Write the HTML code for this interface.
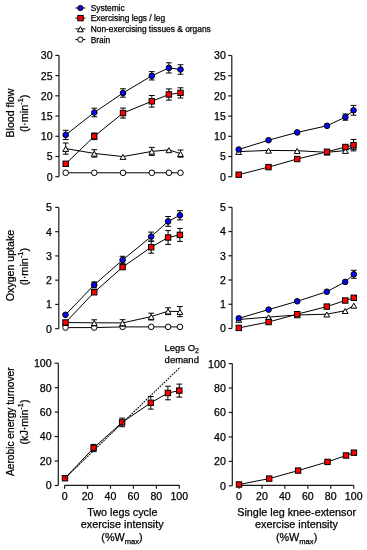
<!DOCTYPE html>
<html><head><meta charset="utf-8"><style>
html,body{margin:0;padding:0;background:#fff;}
svg{display:block;will-change:transform;font-family:"Liberation Sans", sans-serif;}
text{stroke:#000;stroke-width:0.25px;}
</style></head><body>
<svg width="367" height="550" viewBox="0 0 367 550" fill="#000">
<rect width="367" height="550" fill="#fff"/>
<line x1="59" y1="55.4" x2="59" y2="176.7" stroke="#1a1a1a" stroke-width="1.2" /><line x1="55.4" y1="176.7" x2="59" y2="176.7" stroke="#1a1a1a" stroke-width="1.2" /><text x="52.6" y="180.6" font-size="10.6" text-anchor="end" >0</text><line x1="55.4" y1="156.48333333333332" x2="59" y2="156.48333333333332" stroke="#1a1a1a" stroke-width="1.2" /><text x="52.6" y="160.38333333333333" font-size="10.6" text-anchor="end" >5</text><line x1="55.4" y1="136.26666666666665" x2="59" y2="136.26666666666665" stroke="#1a1a1a" stroke-width="1.2" /><text x="52.6" y="140.16666666666666" font-size="10.6" text-anchor="end" >10</text><line x1="55.4" y1="116.04999999999998" x2="59" y2="116.04999999999998" stroke="#1a1a1a" stroke-width="1.2" /><text x="52.6" y="119.94999999999999" font-size="10.6" text-anchor="end" >15</text><line x1="55.4" y1="95.83333333333333" x2="59" y2="95.83333333333333" stroke="#1a1a1a" stroke-width="1.2" /><text x="52.6" y="99.73333333333333" font-size="10.6" text-anchor="end" >20</text><line x1="55.4" y1="75.61666666666667" x2="59" y2="75.61666666666667" stroke="#1a1a1a" stroke-width="1.2" /><text x="52.6" y="79.51666666666668" font-size="10.6" text-anchor="end" >25</text><line x1="55.4" y1="55.39999999999999" x2="59" y2="55.39999999999999" stroke="#1a1a1a" stroke-width="1.2" /><text x="52.6" y="59.29999999999999" font-size="10.6" text-anchor="end" >30</text><polyline points="65.7,172.8 94.3,172.8 123.0,172.8 151.8,172.8 168.9,172.8 180.5,172.8" fill="none" stroke="#000" stroke-width="1"/><circle cx="65.7" cy="172.8" r="2.8" fill="#fff" stroke="#000" stroke-width="1"/><circle cx="94.3" cy="172.8" r="2.8" fill="#fff" stroke="#000" stroke-width="1"/><circle cx="123.0" cy="172.8" r="2.8" fill="#fff" stroke="#000" stroke-width="1"/><circle cx="151.8" cy="172.8" r="2.8" fill="#fff" stroke="#000" stroke-width="1"/><circle cx="168.9" cy="172.8" r="2.8" fill="#fff" stroke="#000" stroke-width="1"/><circle cx="180.5" cy="172.8" r="2.8" fill="#fff" stroke="#000" stroke-width="1"/><polyline points="65.7,148.6 94.3,153.4 123.0,156.6 151.8,151.4 168.9,149.9 180.5,153.6" fill="none" stroke="#000" stroke-width="1"/><line x1="65.7" y1="143.0" x2="65.7" y2="154.2" stroke="#000" stroke-width="1" /><line x1="62.800000000000004" y1="143.0" x2="68.60000000000001" y2="143.0" stroke="#000" stroke-width="1" /><line x1="62.800000000000004" y1="154.2" x2="68.60000000000001" y2="154.2" stroke="#000" stroke-width="1" /><line x1="94.3" y1="149.70000000000002" x2="94.3" y2="157.1" stroke="#000" stroke-width="1" /><line x1="91.39999999999999" y1="149.70000000000002" x2="97.2" y2="149.70000000000002" stroke="#000" stroke-width="1" /><line x1="91.39999999999999" y1="157.1" x2="97.2" y2="157.1" stroke="#000" stroke-width="1" /><line x1="151.8" y1="147.4" x2="151.8" y2="155.4" stroke="#000" stroke-width="1" /><line x1="148.9" y1="147.4" x2="154.70000000000002" y2="147.4" stroke="#000" stroke-width="1" /><line x1="148.9" y1="155.4" x2="154.70000000000002" y2="155.4" stroke="#000" stroke-width="1" /><line x1="180.5" y1="150.0" x2="180.5" y2="157.2" stroke="#000" stroke-width="1" /><line x1="177.6" y1="150.0" x2="183.4" y2="150.0" stroke="#000" stroke-width="1" /><line x1="177.6" y1="157.2" x2="183.4" y2="157.2" stroke="#000" stroke-width="1" /><path d="M65.70 146.40L68.60 151.40L62.80 151.40Z" fill="#fff" stroke="#000" stroke-width="1"/><path d="M94.30 151.20L97.20 156.20L91.40 156.20Z" fill="#fff" stroke="#000" stroke-width="1"/><path d="M123.00 154.40L125.90 159.40L120.10 159.40Z" fill="#fff" stroke="#000" stroke-width="1"/><path d="M151.80 149.20L154.70 154.20L148.90 154.20Z" fill="#fff" stroke="#000" stroke-width="1"/><path d="M168.90 147.70L171.80 152.70L166.00 152.70Z" fill="#fff" stroke="#000" stroke-width="1"/><path d="M180.50 151.40L183.40 156.40L177.60 156.40Z" fill="#fff" stroke="#000" stroke-width="1"/><polyline points="65.7,163.8 94.3,136.3 123.0,113.1 151.8,101.3 168.9,94.5 180.5,92.9" fill="none" stroke="#000" stroke-width="1"/><line x1="94.3" y1="133.0" x2="94.3" y2="139.60000000000002" stroke="#000" stroke-width="1" /><line x1="91.39999999999999" y1="133.0" x2="97.2" y2="133.0" stroke="#000" stroke-width="1" /><line x1="91.39999999999999" y1="139.60000000000002" x2="97.2" y2="139.60000000000002" stroke="#000" stroke-width="1" /><line x1="123.0" y1="108.1" x2="123.0" y2="118.1" stroke="#000" stroke-width="1" /><line x1="120.1" y1="108.1" x2="125.9" y2="108.1" stroke="#000" stroke-width="1" /><line x1="120.1" y1="118.1" x2="125.9" y2="118.1" stroke="#000" stroke-width="1" /><line x1="151.8" y1="95.5" x2="151.8" y2="107.1" stroke="#000" stroke-width="1" /><line x1="148.9" y1="95.5" x2="154.70000000000002" y2="95.5" stroke="#000" stroke-width="1" /><line x1="148.9" y1="107.1" x2="154.70000000000002" y2="107.1" stroke="#000" stroke-width="1" /><line x1="168.9" y1="88.9" x2="168.9" y2="100.1" stroke="#000" stroke-width="1" /><line x1="166.0" y1="88.9" x2="171.8" y2="88.9" stroke="#000" stroke-width="1" /><line x1="166.0" y1="100.1" x2="171.8" y2="100.1" stroke="#000" stroke-width="1" /><line x1="180.5" y1="87.80000000000001" x2="180.5" y2="98.0" stroke="#000" stroke-width="1" /><line x1="177.6" y1="87.80000000000001" x2="183.4" y2="87.80000000000001" stroke="#000" stroke-width="1" /><line x1="177.6" y1="98.0" x2="183.4" y2="98.0" stroke="#000" stroke-width="1" /><rect x="63.0" y="161.10000000000002" width="5.4" height="5.4" fill="#ff0000" stroke="#000" stroke-width="1"/><rect x="91.6" y="133.60000000000002" width="5.4" height="5.4" fill="#ff0000" stroke="#000" stroke-width="1"/><rect x="120.3" y="110.39999999999999" width="5.4" height="5.4" fill="#ff0000" stroke="#000" stroke-width="1"/><rect x="149.10000000000002" y="98.6" width="5.4" height="5.4" fill="#ff0000" stroke="#000" stroke-width="1"/><rect x="166.20000000000002" y="91.8" width="5.4" height="5.4" fill="#ff0000" stroke="#000" stroke-width="1"/><rect x="177.8" y="90.2" width="5.4" height="5.4" fill="#ff0000" stroke="#000" stroke-width="1"/><polyline points="65.7,134.9 94.3,112.5 123.0,93.0 151.8,75.8 168.9,67.9 180.5,69.5" fill="none" stroke="#000" stroke-width="1"/><line x1="65.7" y1="130.3" x2="65.7" y2="139.5" stroke="#000" stroke-width="1" /><line x1="62.800000000000004" y1="130.3" x2="68.60000000000001" y2="130.3" stroke="#000" stroke-width="1" /><line x1="62.800000000000004" y1="139.5" x2="68.60000000000001" y2="139.5" stroke="#000" stroke-width="1" /><line x1="94.3" y1="108.2" x2="94.3" y2="116.8" stroke="#000" stroke-width="1" /><line x1="91.39999999999999" y1="108.2" x2="97.2" y2="108.2" stroke="#000" stroke-width="1" /><line x1="91.39999999999999" y1="116.8" x2="97.2" y2="116.8" stroke="#000" stroke-width="1" /><line x1="123.0" y1="88.8" x2="123.0" y2="97.2" stroke="#000" stroke-width="1" /><line x1="120.1" y1="88.8" x2="125.9" y2="88.8" stroke="#000" stroke-width="1" /><line x1="120.1" y1="97.2" x2="125.9" y2="97.2" stroke="#000" stroke-width="1" /><line x1="151.8" y1="71.64999999999999" x2="151.8" y2="79.95" stroke="#000" stroke-width="1" /><line x1="148.9" y1="71.64999999999999" x2="154.70000000000002" y2="71.64999999999999" stroke="#000" stroke-width="1" /><line x1="148.9" y1="79.95" x2="154.70000000000002" y2="79.95" stroke="#000" stroke-width="1" /><line x1="168.9" y1="62.800000000000004" x2="168.9" y2="73.0" stroke="#000" stroke-width="1" /><line x1="166.0" y1="62.800000000000004" x2="171.8" y2="62.800000000000004" stroke="#000" stroke-width="1" /><line x1="166.0" y1="73.0" x2="171.8" y2="73.0" stroke="#000" stroke-width="1" /><line x1="180.5" y1="64.75" x2="180.5" y2="74.25" stroke="#000" stroke-width="1" /><line x1="177.6" y1="64.75" x2="183.4" y2="64.75" stroke="#000" stroke-width="1" /><line x1="177.6" y1="74.25" x2="183.4" y2="74.25" stroke="#000" stroke-width="1" /><circle cx="65.7" cy="134.9" r="2.8" fill="#0a06ee" stroke="#000" stroke-width="1"/><circle cx="94.3" cy="112.5" r="2.8" fill="#0a06ee" stroke="#000" stroke-width="1"/><circle cx="123.0" cy="93.0" r="2.8" fill="#0a06ee" stroke="#000" stroke-width="1"/><circle cx="151.8" cy="75.8" r="2.8" fill="#0a06ee" stroke="#000" stroke-width="1"/><circle cx="168.9" cy="67.9" r="2.8" fill="#0a06ee" stroke="#000" stroke-width="1"/><circle cx="180.5" cy="69.5" r="2.8" fill="#0a06ee" stroke="#000" stroke-width="1"/><line x1="231.8" y1="55.5" x2="231.8" y2="176.7" stroke="#1a1a1a" stroke-width="1.2" /><line x1="228.20000000000002" y1="176.7" x2="231.8" y2="176.7" stroke="#1a1a1a" stroke-width="1.2" /><text x="225.8" y="180.6" font-size="10.6" text-anchor="end" >0</text><line x1="228.20000000000002" y1="156.5" x2="231.8" y2="156.5" stroke="#1a1a1a" stroke-width="1.2" /><text x="225.8" y="160.4" font-size="10.6" text-anchor="end" >5</text><line x1="228.20000000000002" y1="136.29999999999998" x2="231.8" y2="136.29999999999998" stroke="#1a1a1a" stroke-width="1.2" /><text x="225.8" y="140.2" font-size="10.6" text-anchor="end" >10</text><line x1="228.20000000000002" y1="116.1" x2="231.8" y2="116.1" stroke="#1a1a1a" stroke-width="1.2" /><text x="225.8" y="120.0" font-size="10.6" text-anchor="end" >15</text><line x1="228.20000000000002" y1="95.89999999999999" x2="231.8" y2="95.89999999999999" stroke="#1a1a1a" stroke-width="1.2" /><text x="225.8" y="99.8" font-size="10.6" text-anchor="end" >20</text><line x1="228.20000000000002" y1="75.69999999999999" x2="231.8" y2="75.69999999999999" stroke="#1a1a1a" stroke-width="1.2" /><text x="225.8" y="79.6" font-size="10.6" text-anchor="end" >25</text><line x1="228.20000000000002" y1="55.5" x2="231.8" y2="55.5" stroke="#1a1a1a" stroke-width="1.2" /><text x="225.8" y="59.4" font-size="10.6" text-anchor="end" >30</text><polyline points="238.7,151.6 268.5,150.4 297.2,150.7 327.0,152.3 345.4,150.6 353.5,146.5" fill="none" stroke="#000" stroke-width="1"/><path d="M238.70 149.40L241.60 154.40L235.80 154.40Z" fill="#fff" stroke="#000" stroke-width="1"/><path d="M268.50 148.20L271.40 153.20L265.60 153.20Z" fill="#fff" stroke="#000" stroke-width="1"/><path d="M297.20 148.50L300.10 153.50L294.30 153.50Z" fill="#fff" stroke="#000" stroke-width="1"/><path d="M327.00 150.10L329.90 155.10L324.10 155.10Z" fill="#fff" stroke="#000" stroke-width="1"/><path d="M345.40 148.40L348.30 153.40L342.50 153.40Z" fill="#fff" stroke="#000" stroke-width="1"/><path d="M353.50 144.30L356.40 149.30L350.60 149.30Z" fill="#fff" stroke="#000" stroke-width="1"/><polyline points="238.7,174.7 268.5,167.1 297.2,159.0 327.0,151.8 345.4,147.0 353.5,145.2" fill="none" stroke="#000" stroke-width="1"/><line x1="353.5" y1="139.5" x2="353.5" y2="150.89999999999998" stroke="#000" stroke-width="1" /><line x1="350.6" y1="139.5" x2="356.4" y2="139.5" stroke="#000" stroke-width="1" /><line x1="350.6" y1="150.89999999999998" x2="356.4" y2="150.89999999999998" stroke="#000" stroke-width="1" /><rect x="236.0" y="172.0" width="5.4" height="5.4" fill="#ff0000" stroke="#000" stroke-width="1"/><rect x="265.8" y="164.4" width="5.4" height="5.4" fill="#ff0000" stroke="#000" stroke-width="1"/><rect x="294.5" y="156.3" width="5.4" height="5.4" fill="#ff0000" stroke="#000" stroke-width="1"/><rect x="324.3" y="149.10000000000002" width="5.4" height="5.4" fill="#ff0000" stroke="#000" stroke-width="1"/><rect x="342.7" y="144.3" width="5.4" height="5.4" fill="#ff0000" stroke="#000" stroke-width="1"/><rect x="350.8" y="142.5" width="5.4" height="5.4" fill="#ff0000" stroke="#000" stroke-width="1"/><polyline points="238.7,149.5 268.5,140.2 297.2,132.4 327.0,125.8 345.4,117.1 353.5,110.3" fill="none" stroke="#000" stroke-width="1"/><line x1="345.4" y1="114.0" x2="345.4" y2="120.19999999999999" stroke="#000" stroke-width="1" /><line x1="342.5" y1="114.0" x2="348.29999999999995" y2="114.0" stroke="#000" stroke-width="1" /><line x1="342.5" y1="120.19999999999999" x2="348.29999999999995" y2="120.19999999999999" stroke="#000" stroke-width="1" /><line x1="353.5" y1="105.39999999999999" x2="353.5" y2="115.2" stroke="#000" stroke-width="1" /><line x1="350.6" y1="105.39999999999999" x2="356.4" y2="105.39999999999999" stroke="#000" stroke-width="1" /><line x1="350.6" y1="115.2" x2="356.4" y2="115.2" stroke="#000" stroke-width="1" /><circle cx="238.7" cy="149.5" r="2.8" fill="#0a06ee" stroke="#000" stroke-width="1"/><circle cx="268.5" cy="140.2" r="2.8" fill="#0a06ee" stroke="#000" stroke-width="1"/><circle cx="297.2" cy="132.4" r="2.8" fill="#0a06ee" stroke="#000" stroke-width="1"/><circle cx="327.0" cy="125.8" r="2.8" fill="#0a06ee" stroke="#000" stroke-width="1"/><circle cx="345.4" cy="117.1" r="2.8" fill="#0a06ee" stroke="#000" stroke-width="1"/><circle cx="353.5" cy="110.3" r="2.8" fill="#0a06ee" stroke="#000" stroke-width="1"/><line x1="58.8" y1="207.4" x2="58.8" y2="328.7" stroke="#1a1a1a" stroke-width="1.2" /><line x1="55.199999999999996" y1="328.7" x2="58.8" y2="328.7" stroke="#1a1a1a" stroke-width="1.2" /><text x="52.0" y="332.59999999999997" font-size="10.6" text-anchor="end" >0</text><line x1="55.199999999999996" y1="304.44" x2="58.8" y2="304.44" stroke="#1a1a1a" stroke-width="1.2" /><text x="52.0" y="308.34" font-size="10.6" text-anchor="end" >1</text><line x1="55.199999999999996" y1="280.18" x2="58.8" y2="280.18" stroke="#1a1a1a" stroke-width="1.2" /><text x="52.0" y="284.08" font-size="10.6" text-anchor="end" >2</text><line x1="55.199999999999996" y1="255.92" x2="58.8" y2="255.92" stroke="#1a1a1a" stroke-width="1.2" /><text x="52.0" y="259.82" font-size="10.6" text-anchor="end" >3</text><line x1="55.199999999999996" y1="231.66" x2="58.8" y2="231.66" stroke="#1a1a1a" stroke-width="1.2" /><text x="52.0" y="235.56" font-size="10.6" text-anchor="end" >4</text><line x1="55.199999999999996" y1="207.4" x2="58.8" y2="207.4" stroke="#1a1a1a" stroke-width="1.2" /><text x="52.0" y="211.3" font-size="10.6" text-anchor="end" >5</text><polyline points="65.5,327.6 94.2,327.6 122.6,326.9 151.2,326.9 168.1,326.9 179.9,326.9" fill="none" stroke="#000" stroke-width="1"/><circle cx="65.5" cy="327.6" r="2.8" fill="#fff" stroke="#000" stroke-width="1"/><circle cx="94.2" cy="327.6" r="2.8" fill="#fff" stroke="#000" stroke-width="1"/><circle cx="122.6" cy="326.9" r="2.8" fill="#fff" stroke="#000" stroke-width="1"/><circle cx="151.2" cy="326.9" r="2.8" fill="#fff" stroke="#000" stroke-width="1"/><circle cx="168.1" cy="326.9" r="2.8" fill="#fff" stroke="#000" stroke-width="1"/><circle cx="179.9" cy="326.9" r="2.8" fill="#fff" stroke="#000" stroke-width="1"/><polyline points="65.5,322.5 94.2,322.8 122.6,322.9 151.2,316.6 168.1,311.2 179.9,311.6" fill="none" stroke="#000" stroke-width="1"/><line x1="94.2" y1="319.8" x2="94.2" y2="325.8" stroke="#000" stroke-width="1" /><line x1="91.3" y1="319.8" x2="97.10000000000001" y2="319.8" stroke="#000" stroke-width="1" /><line x1="91.3" y1="325.8" x2="97.10000000000001" y2="325.8" stroke="#000" stroke-width="1" /><line x1="122.6" y1="319.7" x2="122.6" y2="326.09999999999997" stroke="#000" stroke-width="1" /><line x1="119.69999999999999" y1="319.7" x2="125.5" y2="319.7" stroke="#000" stroke-width="1" /><line x1="119.69999999999999" y1="326.09999999999997" x2="125.5" y2="326.09999999999997" stroke="#000" stroke-width="1" /><line x1="151.2" y1="313.20000000000005" x2="151.2" y2="320.0" stroke="#000" stroke-width="1" /><line x1="148.29999999999998" y1="313.20000000000005" x2="154.1" y2="313.20000000000005" stroke="#000" stroke-width="1" /><line x1="148.29999999999998" y1="320.0" x2="154.1" y2="320.0" stroke="#000" stroke-width="1" /><line x1="168.1" y1="307.8" x2="168.1" y2="314.59999999999997" stroke="#000" stroke-width="1" /><line x1="165.2" y1="307.8" x2="171.0" y2="307.8" stroke="#000" stroke-width="1" /><line x1="165.2" y1="314.59999999999997" x2="171.0" y2="314.59999999999997" stroke="#000" stroke-width="1" /><line x1="179.9" y1="306.6" x2="179.9" y2="316.6" stroke="#000" stroke-width="1" /><line x1="177.0" y1="306.6" x2="182.8" y2="306.6" stroke="#000" stroke-width="1" /><line x1="177.0" y1="316.6" x2="182.8" y2="316.6" stroke="#000" stroke-width="1" /><path d="M65.50 320.30L68.40 325.30L62.60 325.30Z" fill="#fff" stroke="#000" stroke-width="1"/><path d="M94.20 320.60L97.10 325.60L91.30 325.60Z" fill="#fff" stroke="#000" stroke-width="1"/><path d="M122.60 320.70L125.50 325.70L119.70 325.70Z" fill="#fff" stroke="#000" stroke-width="1"/><path d="M151.20 314.40L154.10 319.40L148.30 319.40Z" fill="#fff" stroke="#000" stroke-width="1"/><path d="M168.10 309.00L171.00 314.00L165.20 314.00Z" fill="#fff" stroke="#000" stroke-width="1"/><path d="M179.90 309.40L182.80 314.40L177.00 314.40Z" fill="#fff" stroke="#000" stroke-width="1"/><polyline points="65.5,322.5 94.2,292.3 122.6,267.1 151.2,247.2 168.1,237.5 179.9,234.9" fill="none" stroke="#000" stroke-width="1"/><line x1="151.2" y1="241.2" x2="151.2" y2="253.2" stroke="#000" stroke-width="1" /><line x1="148.29999999999998" y1="241.2" x2="154.1" y2="241.2" stroke="#000" stroke-width="1" /><line x1="148.29999999999998" y1="253.2" x2="154.1" y2="253.2" stroke="#000" stroke-width="1" /><line x1="168.1" y1="230.6" x2="168.1" y2="244.4" stroke="#000" stroke-width="1" /><line x1="165.2" y1="230.6" x2="171.0" y2="230.6" stroke="#000" stroke-width="1" /><line x1="165.2" y1="244.4" x2="171.0" y2="244.4" stroke="#000" stroke-width="1" /><line x1="179.9" y1="228.4" x2="179.9" y2="241.4" stroke="#000" stroke-width="1" /><line x1="177.0" y1="228.4" x2="182.8" y2="228.4" stroke="#000" stroke-width="1" /><line x1="177.0" y1="241.4" x2="182.8" y2="241.4" stroke="#000" stroke-width="1" /><rect x="62.8" y="319.8" width="5.4" height="5.4" fill="#ff0000" stroke="#000" stroke-width="1"/><rect x="91.5" y="289.6" width="5.4" height="5.4" fill="#ff0000" stroke="#000" stroke-width="1"/><rect x="119.89999999999999" y="264.40000000000003" width="5.4" height="5.4" fill="#ff0000" stroke="#000" stroke-width="1"/><rect x="148.5" y="244.5" width="5.4" height="5.4" fill="#ff0000" stroke="#000" stroke-width="1"/><rect x="165.4" y="234.8" width="5.4" height="5.4" fill="#ff0000" stroke="#000" stroke-width="1"/><rect x="177.20000000000002" y="232.20000000000002" width="5.4" height="5.4" fill="#ff0000" stroke="#000" stroke-width="1"/><polyline points="65.5,314.8 94.2,284.9 122.6,260.0 151.2,236.6 168.1,221.4 179.9,215.3" fill="none" stroke="#000" stroke-width="1"/><line x1="94.2" y1="281.9" x2="94.2" y2="287.9" stroke="#000" stroke-width="1" /><line x1="91.3" y1="281.9" x2="97.10000000000001" y2="281.9" stroke="#000" stroke-width="1" /><line x1="91.3" y1="287.9" x2="97.10000000000001" y2="287.9" stroke="#000" stroke-width="1" /><line x1="122.6" y1="256.3" x2="122.6" y2="263.7" stroke="#000" stroke-width="1" /><line x1="119.69999999999999" y1="256.3" x2="125.5" y2="256.3" stroke="#000" stroke-width="1" /><line x1="119.69999999999999" y1="263.7" x2="125.5" y2="263.7" stroke="#000" stroke-width="1" /><line x1="151.2" y1="232.1" x2="151.2" y2="241.1" stroke="#000" stroke-width="1" /><line x1="148.29999999999998" y1="232.1" x2="154.1" y2="232.1" stroke="#000" stroke-width="1" /><line x1="148.29999999999998" y1="241.1" x2="154.1" y2="241.1" stroke="#000" stroke-width="1" /><line x1="168.1" y1="216.5" x2="168.1" y2="226.3" stroke="#000" stroke-width="1" /><line x1="165.2" y1="216.5" x2="171.0" y2="216.5" stroke="#000" stroke-width="1" /><line x1="165.2" y1="226.3" x2="171.0" y2="226.3" stroke="#000" stroke-width="1" /><line x1="179.9" y1="210.70000000000002" x2="179.9" y2="219.9" stroke="#000" stroke-width="1" /><line x1="177.0" y1="210.70000000000002" x2="182.8" y2="210.70000000000002" stroke="#000" stroke-width="1" /><line x1="177.0" y1="219.9" x2="182.8" y2="219.9" stroke="#000" stroke-width="1" /><circle cx="65.5" cy="314.8" r="2.8" fill="#0a06ee" stroke="#000" stroke-width="1"/><circle cx="94.2" cy="284.9" r="2.8" fill="#0a06ee" stroke="#000" stroke-width="1"/><circle cx="122.6" cy="260.0" r="2.8" fill="#0a06ee" stroke="#000" stroke-width="1"/><circle cx="151.2" cy="236.6" r="2.8" fill="#0a06ee" stroke="#000" stroke-width="1"/><circle cx="168.1" cy="221.4" r="2.8" fill="#0a06ee" stroke="#000" stroke-width="1"/><circle cx="179.9" cy="215.3" r="2.8" fill="#0a06ee" stroke="#000" stroke-width="1"/><line x1="232.0" y1="207.3" x2="232.0" y2="328.5" stroke="#1a1a1a" stroke-width="1.2" /><line x1="228.4" y1="328.5" x2="232.0" y2="328.5" stroke="#1a1a1a" stroke-width="1.2" /><text x="225.8" y="332.4" font-size="10.6" text-anchor="end" >0</text><line x1="228.4" y1="304.26" x2="232.0" y2="304.26" stroke="#1a1a1a" stroke-width="1.2" /><text x="225.8" y="308.15999999999997" font-size="10.6" text-anchor="end" >1</text><line x1="228.4" y1="280.02" x2="232.0" y2="280.02" stroke="#1a1a1a" stroke-width="1.2" /><text x="225.8" y="283.91999999999996" font-size="10.6" text-anchor="end" >2</text><line x1="228.4" y1="255.78" x2="232.0" y2="255.78" stroke="#1a1a1a" stroke-width="1.2" /><text x="225.8" y="259.68" font-size="10.6" text-anchor="end" >3</text><line x1="228.4" y1="231.54000000000002" x2="232.0" y2="231.54000000000002" stroke="#1a1a1a" stroke-width="1.2" /><text x="225.8" y="235.44000000000003" font-size="10.6" text-anchor="end" >4</text><line x1="228.4" y1="207.3" x2="232.0" y2="207.3" stroke="#1a1a1a" stroke-width="1.2" /><text x="225.8" y="211.20000000000002" font-size="10.6" text-anchor="end" >5</text><polyline points="238.8,319.5 268.6,317.1 297.2,315.0 326.8,314.2 345.2,310.7 353.8,305.4" fill="none" stroke="#000" stroke-width="1"/><path d="M238.80 317.30L241.70 322.30L235.90 322.30Z" fill="#fff" stroke="#000" stroke-width="1"/><path d="M268.60 314.90L271.50 319.90L265.70 319.90Z" fill="#fff" stroke="#000" stroke-width="1"/><path d="M297.20 312.80L300.10 317.80L294.30 317.80Z" fill="#fff" stroke="#000" stroke-width="1"/><path d="M326.80 312.00L329.70 317.00L323.90 317.00Z" fill="#fff" stroke="#000" stroke-width="1"/><path d="M345.20 308.50L348.10 313.50L342.30 313.50Z" fill="#fff" stroke="#000" stroke-width="1"/><path d="M353.80 303.20L356.70 308.20L350.90 308.20Z" fill="#fff" stroke="#000" stroke-width="1"/><polyline points="238.8,327.9 268.6,322.0 297.2,314.2 326.8,306.6 345.2,300.5 353.8,297.8" fill="none" stroke="#000" stroke-width="1"/><rect x="236.10000000000002" y="325.2" width="5.4" height="5.4" fill="#ff0000" stroke="#000" stroke-width="1"/><rect x="265.90000000000003" y="319.3" width="5.4" height="5.4" fill="#ff0000" stroke="#000" stroke-width="1"/><rect x="294.5" y="311.5" width="5.4" height="5.4" fill="#ff0000" stroke="#000" stroke-width="1"/><rect x="324.1" y="303.90000000000003" width="5.4" height="5.4" fill="#ff0000" stroke="#000" stroke-width="1"/><rect x="342.5" y="297.8" width="5.4" height="5.4" fill="#ff0000" stroke="#000" stroke-width="1"/><rect x="351.1" y="295.1" width="5.4" height="5.4" fill="#ff0000" stroke="#000" stroke-width="1"/><polyline points="238.8,318.3 268.6,309.6 297.2,301.3 326.8,291.7 345.2,281.9 353.8,274.3" fill="none" stroke="#000" stroke-width="1"/><line x1="353.8" y1="270.3" x2="353.8" y2="278.3" stroke="#000" stroke-width="1" /><line x1="350.90000000000003" y1="270.3" x2="356.7" y2="270.3" stroke="#000" stroke-width="1" /><line x1="350.90000000000003" y1="278.3" x2="356.7" y2="278.3" stroke="#000" stroke-width="1" /><circle cx="238.8" cy="318.3" r="2.8" fill="#0a06ee" stroke="#000" stroke-width="1"/><circle cx="268.6" cy="309.6" r="2.8" fill="#0a06ee" stroke="#000" stroke-width="1"/><circle cx="297.2" cy="301.3" r="2.8" fill="#0a06ee" stroke="#000" stroke-width="1"/><circle cx="326.8" cy="291.7" r="2.8" fill="#0a06ee" stroke="#000" stroke-width="1"/><circle cx="345.2" cy="281.9" r="2.8" fill="#0a06ee" stroke="#000" stroke-width="1"/><circle cx="353.8" cy="274.3" r="2.8" fill="#0a06ee" stroke="#000" stroke-width="1"/><line x1="58.3" y1="363.2" x2="58.3" y2="485.5" stroke="#1a1a1a" stroke-width="1.2" /><line x1="54.699999999999996" y1="485.5" x2="58.3" y2="485.5" stroke="#1a1a1a" stroke-width="1.2" /><text x="51.6" y="489.4" font-size="10.6" text-anchor="end" >0</text><line x1="54.699999999999996" y1="461.04" x2="58.3" y2="461.04" stroke="#1a1a1a" stroke-width="1.2" /><text x="51.6" y="464.94" font-size="10.6" text-anchor="end" >20</text><line x1="54.699999999999996" y1="436.58" x2="58.3" y2="436.58" stroke="#1a1a1a" stroke-width="1.2" /><text x="51.6" y="440.47999999999996" font-size="10.6" text-anchor="end" >40</text><line x1="54.699999999999996" y1="412.12" x2="58.3" y2="412.12" stroke="#1a1a1a" stroke-width="1.2" /><text x="51.6" y="416.02" font-size="10.6" text-anchor="end" >60</text><line x1="54.699999999999996" y1="387.65999999999997" x2="58.3" y2="387.65999999999997" stroke="#1a1a1a" stroke-width="1.2" /><text x="51.6" y="391.55999999999995" font-size="10.6" text-anchor="end" >80</text><line x1="54.699999999999996" y1="363.2" x2="58.3" y2="363.2" stroke="#1a1a1a" stroke-width="1.2" /><text x="51.6" y="367.09999999999997" font-size="10.6" text-anchor="end" >100</text><line x1="64.6" y1="485.3" x2="179.3" y2="485.3" stroke="#1a1a1a" stroke-width="1.2" /><line x1="64.6" y1="485.3" x2="64.6" y2="488.8" stroke="#1a1a1a" stroke-width="1.2" /><text x="64.6" y="499.7" font-size="10.6" text-anchor="middle" >0</text><line x1="87.53999999999999" y1="485.3" x2="87.53999999999999" y2="488.8" stroke="#1a1a1a" stroke-width="1.2" /><text x="87.53999999999999" y="499.7" font-size="10.6" text-anchor="middle" >20</text><line x1="110.48" y1="485.3" x2="110.48" y2="488.8" stroke="#1a1a1a" stroke-width="1.2" /><text x="110.48" y="499.7" font-size="10.6" text-anchor="middle" >40</text><line x1="133.42000000000002" y1="485.3" x2="133.42000000000002" y2="488.8" stroke="#1a1a1a" stroke-width="1.2" /><text x="133.42000000000002" y="499.7" font-size="10.6" text-anchor="middle" >60</text><line x1="156.36" y1="485.3" x2="156.36" y2="488.8" stroke="#1a1a1a" stroke-width="1.2" /><text x="156.36" y="499.7" font-size="10.6" text-anchor="middle" >80</text><line x1="179.3" y1="485.3" x2="179.3" y2="488.8" stroke="#1a1a1a" stroke-width="1.2" /><text x="179.3" y="499.7" font-size="10.6" text-anchor="middle" >100</text><polyline points="65.0,478.2 93.6,448.0 122.1,422.4 150.8,402.8 167.9,393.0 179.3,390.6" fill="none" stroke="#000" stroke-width="1"/><line x1="93.6" y1="444.4" x2="93.6" y2="451.6" stroke="#000" stroke-width="1" /><line x1="90.69999999999999" y1="444.4" x2="96.5" y2="444.4" stroke="#000" stroke-width="1" /><line x1="90.69999999999999" y1="451.6" x2="96.5" y2="451.6" stroke="#000" stroke-width="1" /><line x1="122.1" y1="418.09999999999997" x2="122.1" y2="426.7" stroke="#000" stroke-width="1" /><line x1="119.19999999999999" y1="418.09999999999997" x2="125.0" y2="418.09999999999997" stroke="#000" stroke-width="1" /><line x1="119.19999999999999" y1="426.7" x2="125.0" y2="426.7" stroke="#000" stroke-width="1" /><line x1="150.8" y1="396.5" x2="150.8" y2="409.1" stroke="#000" stroke-width="1" /><line x1="147.9" y1="396.5" x2="153.70000000000002" y2="396.5" stroke="#000" stroke-width="1" /><line x1="147.9" y1="409.1" x2="153.70000000000002" y2="409.1" stroke="#000" stroke-width="1" /><line x1="167.9" y1="386.2" x2="167.9" y2="399.8" stroke="#000" stroke-width="1" /><line x1="165.0" y1="386.2" x2="170.8" y2="386.2" stroke="#000" stroke-width="1" /><line x1="165.0" y1="399.8" x2="170.8" y2="399.8" stroke="#000" stroke-width="1" /><line x1="179.3" y1="384.1" x2="179.3" y2="397.1" stroke="#000" stroke-width="1" /><line x1="176.4" y1="384.1" x2="182.20000000000002" y2="384.1" stroke="#000" stroke-width="1" /><line x1="176.4" y1="397.1" x2="182.20000000000002" y2="397.1" stroke="#000" stroke-width="1" /><rect x="62.3" y="475.5" width="5.4" height="5.4" fill="#ff0000" stroke="#000" stroke-width="1"/><rect x="90.89999999999999" y="445.3" width="5.4" height="5.4" fill="#ff0000" stroke="#000" stroke-width="1"/><rect x="119.39999999999999" y="419.7" width="5.4" height="5.4" fill="#ff0000" stroke="#000" stroke-width="1"/><rect x="148.10000000000002" y="400.1" width="5.4" height="5.4" fill="#ff0000" stroke="#000" stroke-width="1"/><rect x="165.20000000000002" y="390.3" width="5.4" height="5.4" fill="#ff0000" stroke="#000" stroke-width="1"/><rect x="176.60000000000002" y="387.90000000000003" width="5.4" height="5.4" fill="#ff0000" stroke="#000" stroke-width="1"/><line x1="65.0" y1="478.2" x2="180.2" y2="367.2" stroke="#000" stroke-width="1.05" stroke-dasharray="1.8,1.0"/><text x="164.4" y="350.7" font-size="9.5" text-anchor="start" >Legs O<tspan font-size="6.8" dy="2.2">2</tspan></text><text x="164.6" y="362.7" font-size="9.5" text-anchor="start" >demand</text><line x1="232.3" y1="363.6" x2="232.3" y2="485.8" stroke="#1a1a1a" stroke-width="1.2" /><line x1="228.70000000000002" y1="485.8" x2="232.3" y2="485.8" stroke="#1a1a1a" stroke-width="1.2" /><text x="225.8" y="489.7" font-size="10.6" text-anchor="end" >0</text><line x1="228.70000000000002" y1="461.36" x2="232.3" y2="461.36" stroke="#1a1a1a" stroke-width="1.2" /><text x="225.8" y="465.26" font-size="10.6" text-anchor="end" >20</text><line x1="228.70000000000002" y1="436.92" x2="232.3" y2="436.92" stroke="#1a1a1a" stroke-width="1.2" /><text x="225.8" y="440.82" font-size="10.6" text-anchor="end" >40</text><line x1="228.70000000000002" y1="412.48" x2="232.3" y2="412.48" stroke="#1a1a1a" stroke-width="1.2" /><text x="225.8" y="416.38" font-size="10.6" text-anchor="end" >60</text><line x1="228.70000000000002" y1="388.04" x2="232.3" y2="388.04" stroke="#1a1a1a" stroke-width="1.2" /><text x="225.8" y="391.94" font-size="10.6" text-anchor="end" >80</text><line x1="228.70000000000002" y1="363.6" x2="232.3" y2="363.6" stroke="#1a1a1a" stroke-width="1.2" /><text x="225.8" y="367.5" font-size="10.6" text-anchor="end" >100</text><line x1="239.0" y1="485.3" x2="353.7" y2="485.3" stroke="#1a1a1a" stroke-width="1.2" /><line x1="239.0" y1="485.3" x2="239.0" y2="488.8" stroke="#1a1a1a" stroke-width="1.2" /><text x="239.0" y="499.7" font-size="10.6" text-anchor="middle" >0</text><line x1="261.94" y1="485.3" x2="261.94" y2="488.8" stroke="#1a1a1a" stroke-width="1.2" /><text x="261.94" y="499.7" font-size="10.6" text-anchor="middle" >20</text><line x1="284.88" y1="485.3" x2="284.88" y2="488.8" stroke="#1a1a1a" stroke-width="1.2" /><text x="284.88" y="499.7" font-size="10.6" text-anchor="middle" >40</text><line x1="307.82" y1="485.3" x2="307.82" y2="488.8" stroke="#1a1a1a" stroke-width="1.2" /><text x="307.82" y="499.7" font-size="10.6" text-anchor="middle" >60</text><line x1="330.76" y1="485.3" x2="330.76" y2="488.8" stroke="#1a1a1a" stroke-width="1.2" /><text x="330.76" y="499.7" font-size="10.6" text-anchor="middle" >80</text><line x1="353.7" y1="485.3" x2="353.7" y2="488.8" stroke="#1a1a1a" stroke-width="1.2" /><text x="353.7" y="499.7" font-size="10.6" text-anchor="middle" >100</text><polyline points="239.0,484.5 269.2,478.6 298.1,470.6 327.5,461.9 346.0,455.5 353.9,452.7" fill="none" stroke="#000" stroke-width="1"/><rect x="236.3" y="481.8" width="5.4" height="5.4" fill="#ff0000" stroke="#000" stroke-width="1"/><rect x="266.5" y="475.90000000000003" width="5.4" height="5.4" fill="#ff0000" stroke="#000" stroke-width="1"/><rect x="295.40000000000003" y="467.90000000000003" width="5.4" height="5.4" fill="#ff0000" stroke="#000" stroke-width="1"/><rect x="324.8" y="459.2" width="5.4" height="5.4" fill="#ff0000" stroke="#000" stroke-width="1"/><rect x="343.3" y="452.8" width="5.4" height="5.4" fill="#ff0000" stroke="#000" stroke-width="1"/><rect x="351.2" y="450.0" width="5.4" height="5.4" fill="#ff0000" stroke="#000" stroke-width="1"/><text transform="translate(13.9,113.1) rotate(-90)" font-size="10.6" text-anchor="middle">Blood flow</text><text transform="translate(27.6,113.3) rotate(-90)" font-size="10.9" text-anchor="middle">(l·min<tspan font-size="7.4" dy="-4.2">-1</tspan><tspan dy="4.2">)</tspan></text><text transform="translate(14.1,265.5) rotate(-90)" font-size="10.6" text-anchor="middle">Oxygen uptake</text><text transform="translate(27.6,266.6) rotate(-90)" font-size="10.9" text-anchor="middle">(l·min<tspan font-size="7.4" dy="-4.2">-1</tspan><tspan dy="4.2">)</tspan></text><text transform="translate(14.0,421.7) rotate(-90)" font-size="10.2" text-anchor="middle">Aerobic energy turnover</text><text transform="translate(27.6,422.0) rotate(-90)" font-size="10.6" text-anchor="middle">(kJ·min<tspan font-size="7.4" dy="-4.2">-1</tspan><tspan dy="4.2">)</tspan></text><text x="122.3" y="516.0" font-size="10.8" text-anchor="middle" >Two legs cycle</text><text x="122.2" y="528.3" font-size="10.8" text-anchor="middle" >exercise intensity</text><text x="122.0" y="541.2" font-size="10.8" text-anchor="middle" >(%W<tspan font-size="7.6" dy="2.8">max</tspan><tspan dy="-2.8">)</tspan></text><text x="296.7" y="516.0" font-size="10.8" text-anchor="middle" >Single leg knee-extensor</text><text x="296.5" y="528.3" font-size="10.8" text-anchor="middle" >exercise intensity</text><text x="296.6" y="541.2" font-size="10.8" text-anchor="middle" >(%W<tspan font-size="7.6" dy="2.8">max</tspan><tspan dy="-2.8">)</tspan></text><line x1="75.4" y1="8.0" x2="85.4" y2="8.0" stroke="#000" stroke-width="1" /><line x1="75.4" y1="18.1" x2="85.4" y2="18.1" stroke="#000" stroke-width="1" /><line x1="75.4" y1="28.9" x2="85.4" y2="28.9" stroke="#000" stroke-width="1" /><line x1="75.4" y1="39.6" x2="85.4" y2="39.6" stroke="#000" stroke-width="1" /><circle cx="80.4" cy="8.0" r="2.6" fill="#0a06ee" stroke="#000" stroke-width="1"/><rect x="77.8" y="15.400000000000002" width="5.4" height="5.4" fill="#ff0000" stroke="#000" stroke-width="1"/><path d="M80.40 26.60L83.30 31.80L77.50 31.80Z" fill="#fff" stroke="#000" stroke-width="1"/><circle cx="80.4" cy="39.6" r="2.6" fill="#fff" stroke="#000" stroke-width="1"/><text x="90.7" y="11.1" font-size="8.4" text-anchor="start" >Systemic</text><text x="90.7" y="21.200000000000003" font-size="8.4" text-anchor="start" >Exercising legs / leg</text><text x="90.7" y="32.0" font-size="8.4" text-anchor="start" >Non-exercising tissues &amp; organs</text><text x="90.7" y="42.7" font-size="8.4" text-anchor="start" >Brain</text>
</svg></body></html>
